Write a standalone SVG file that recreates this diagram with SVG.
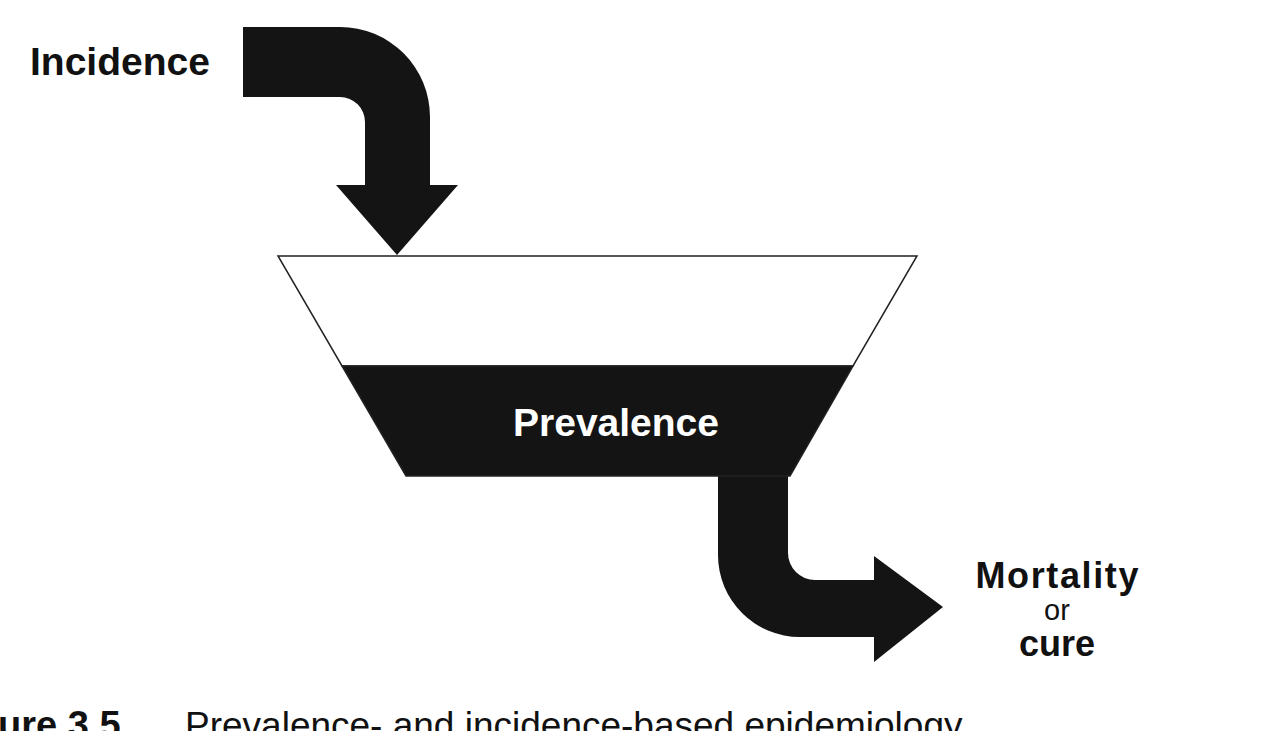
<svg xmlns="http://www.w3.org/2000/svg" width="1261" height="731" viewBox="0 0 1261 731">
<style>
.b{font-family:"Liberation Sans",Arial,sans-serif;font-weight:bold;fill:#111}
.r{font-family:"Liberation Sans",Arial,sans-serif;fill:#111}
.blk{fill:#141414}
</style>
<rect width="1261" height="731" fill="#fff"/>
<g id="connectors">
<path id="in-arrow" class="blk" d="M243,27 H340 A90,90 0 0 1 430,117 V185 H458 L397,255 L336,185 H365 V122 A25,25 0 0 0 340,97 H243 Z"/>
<path id="out-arrow" class="blk" d="M718,475 H788 V553 A27,27 0 0 0 815,580 H874 V556 L943,607 L874,662 V637 H800 A82,82 0 0 1 718,555 Z"/>
</g>
<g id="funnel">
<polygon points="278,256 917,256 853,366 342,366" fill="#fff" stroke="#222" stroke-width="1.5"/>
<polygon points="342,366 853,366 790,476 406,476" class="blk" stroke="#222" stroke-width="1.5"/>
<text x="616" y="436" text-anchor="middle" font-size="39" class="b" style="fill:#fff">Prevalence</text>
</g>
<g id="incidence"><text x="30" y="75" font-size="39" class="b">Incidence</text></g>
<g id="mortality">
<text x="1057" y="588" text-anchor="middle" font-size="36" class="b" textLength="163">Mortality</text>
<text x="1057" y="620" text-anchor="middle" font-size="29" class="r">or</text>
<text x="1057" y="656" text-anchor="middle" font-size="36" class="b">cure</text>
</g>
<g id="caption">
<text x="-2" y="738" font-size="38" class="b">ure 3.5</text>
<text x="185" y="738" font-size="37" class="r">Prevalence- and incidence-based epidemiology</text>
</g>
</svg>
